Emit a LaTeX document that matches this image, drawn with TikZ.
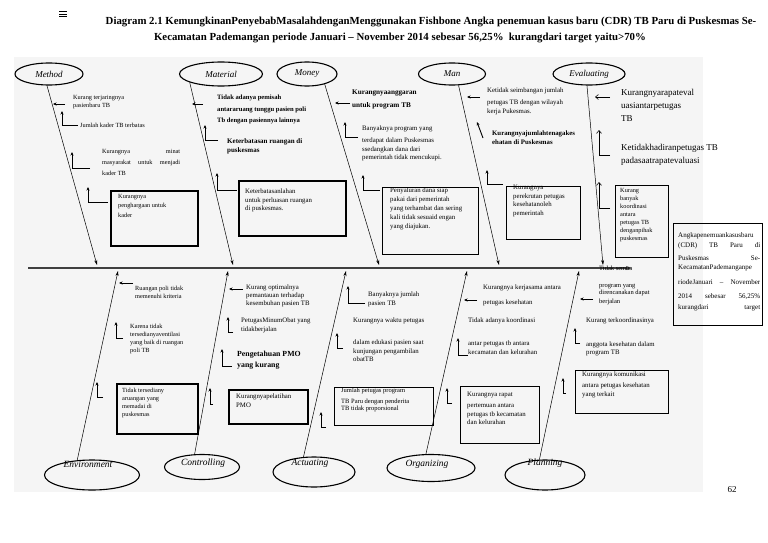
\documentclass[tikz,border=0pt]{standalone}
\usepackage{fontspec}
\setmainfont{Liberation Serif}
\usetikzlibrary{arrows.meta, shapes.geometric, positioning}
\tikzset{
	cat/.style={
		draw,
		ellipse,
		line width=1.1pt,
		inner sep=0pt,
		font=\fontsize{9}{10}\selectfont\itshape
	},
	catname/.style={
		inner sep=0pt,
		font=\fontsize{9.5}{10}\selectfont\itshape
	},
	spine/.style={
		-{Stealth[length=6pt,width=4pt]},
		line width=1.2pt,
		black!75
	},
	bone/.style={
		-{Stealth[length=5pt,width=3pt]},
		line width=.5pt
	},
	twig/.style={
		-{Stealth[length=3.5pt,width=3pt]},
		line width=.9pt
	},
	opentwig/.style={
		-{Straight Barb[length=3pt,width=5pt]},
		line width=.6pt
	},
	lbl/.style={
		anchor=north west,
		inner sep=0pt,
		align=left,
		font=\fontsize{6.8}{8.5}\selectfont
	},
	lbls/.style={lbl, font=\fontsize{6.3}{8}\selectfont},
	lblb/.style={lbl, font=\fontsize{7}{11}\selectfont\bfseries},
	lblbig/.style={lbl, font=\fontsize{9}{13}\selectfont},
	boxthick/.style={draw, line width=1.6pt, anchor=north west, inner sep=0pt},
	boxthin/.style={draw, line width=.7pt, anchor=north west, inner sep=0pt}
}
% small cause arrows: #2 name, #3 foot end, #4 tip
\newcommand{\twigL}[4][twig]{%
	\coordinate (#2f) at (#3); \coordinate (#2t) at (#4);
	\draw[#1] (#2f) -| (#2t);}
\newcommand{\twigS}[4][twig]{%
	\coordinate (#2f) at (#3); \coordinate (#2t) at (#4);
	\draw[#1] (#2f) -- (#2t);}

\begin{document}
\begin{tikzpicture}[x=1pt, y=-1pt]
	\useasboundingbox (0,0) rectangle (768,543);
	\fill[black!4] (14,57) rectangle (703,492);

	% title
	\foreach \yy in {11.5,14,16.5}
		\draw[line width=.6pt] (59,\yy) -- (67,\yy);
	\node[font=\fontsize{10.8}{12}\selectfont\bfseries] (ttl1) at (431,22) {Diagram 2.1 KemungkinanPenyebabMasalahdenganMenggunakan Fishbone Angka penemuan kasus baru (CDR) TB Paru di Puskesmas Se-};
	\node[font=\fontsize{10.8}{12}\selectfont\bfseries] (ttl2) at (400,38) {Kecamatan Pademangan periode Januari -- November 2014 sebesar 56,25\%\ \ kurangdari target yaitu>70\%};

	% spine
	\coordinate (tail) at (28,268);
	\coordinate (head) at (632,268);
	\draw[spine] (tail) -- (head);

	% categories
	\node[cat, minimum width=68pt, minimum height=22pt] (meth) at (49,74) {Method};
	\node[cat, minimum width=83pt, minimum height=24pt] (mat) at (221,74) {Material};
	\node[cat, minimum width=60pt, minimum height=24pt] (mon) at (307,74) {Money};
	\node[cat, minimum width=67pt, minimum height=22pt] (man) at (452,74) {Man};
	\node[cat, minimum width=72pt, minimum height=22pt] (eva) at (589,74) {Evaluating};

	\node[cat, minimum width=95pt, minimum height=30pt] (env) at (92,475) {};
	\node[cat, minimum width=75pt, minimum height=25pt] (ctl) at (202,467) {};
	\node[cat, minimum width=82pt, minimum height=30pt] (act) at (314,472) {};
	\node[cat, minimum width=88pt, minimum height=27pt] (org) at (431,468) {};
	\node[cat, minimum width=80pt, minimum height=30pt] (pln) at (545,475) {};

	\coordinate (methe) at (97,265);
	\coordinate (mate) at (233,265);
	\coordinate (mone) at (379,265);
	\coordinate (mane) at (499,265);
	\coordinate (evae) at (603,265);
	\coordinate (enve) at (118,271);
	\coordinate (ctle) at (228,271);
	\coordinate (acte) at (346,271);
	\coordinate (orge) at (467,271);
	\coordinate (plne) at (579,271);

	\draw[bone] (meth.-100) -- (methe);
	\draw[bone] (mat.-165) -- (mate);
	\draw[bone] (mon.-30) -- (mone);
	\draw[bone] (man.-60) -- (mane);
	\draw[bone] (eva.-100) -- (evae);
	\draw[bone] (env.135) -- (enve);
	\draw[bone] (ctl.120) -- (ctle);
	\draw[bone] (act.125) -- (acte);
	\draw[bone] (org.110) -- (orge);
	\draw[bone] (pln.110) -- (plne);

	\node[catname] (envt) at (88,464) {Environment};
	\node[catname] (ctlt) at (203,463) {Controlling};
	\node[catname] (actt) at (310,463) {Actuating};
	\node[catname] (orgt) at (427,464) {Organizing};
	\node[catname] (plnt) at (545,463) {Planning};

	% Method
	\node[lbls] (mt1) at (73,95) {Kurang terjaringnya\\pasienbaru TB};
	\twigS{mt1}{65,104}{53,104}
	\node[lbls] (mt2) at (80,123) {Jumlah kader TB terbatas};
	\twigL{mt2}{78,125}{62,111}
	\node[lbls] (mt3) at (102,149) {\makebox[78pt][s]{Kurangnya minat}\\[3pt]\makebox[78pt][s]{masyarakat untuk menjadi}\\[3pt]kader TB};
	\twigL{mt3}{90,168}{72,152}
	\node[boxthick, minimum width=87pt, minimum height=55pt] (mtb) at (110,190) {};
	\node[lbls] (mtbt) at (118,194) {Kurangnya\\[1.5pt]penghargaan untuk\\[1.5pt]kader};
	\twigL{mtb}{108,202}{88,187}

	% Material
	\node[lblb, font=\fontsize{6.6}{11.5}\selectfont\bfseries] (ma1) at (217,95) {Tidak adanya pemisah\\antararuang tunggu pasien poli\\Tb dengan pasiennya lainnya};
	\twigS{ma1}{203,104}{192,104}
	\node[lblb, font=\fontsize{7}{9}\selectfont\bfseries] (ma2) at (227,138) {Keterbatasan ruangan di\\puskesmas};
	\twigL{ma2}{218,140}{205,125}
	\node[boxthick, minimum width=107pt, minimum height=55pt] (mab) at (238,180) {};
	\node[lbl] (mabt) at (245,189) {Keterbatasanlahan\\untuk perluasan ruangan\\di puskesmas.};
	\twigL{mab}{237,190}{217,173}

	% Money
	\node[lblb, font=\fontsize{7.2}{13}\selectfont\bfseries] (mo1) at (352,90) {Kurangnyaanggaran\\untuk program TB};
	\twigS{mo1}{350,103}{335,103}
	\node[lbl] (mo2) at (362,126) {Banyaknya program yang\\[3.5pt]terdapat dalam Puskesmas\\ssedangkan dana dari\\pemerintah tidak mencukupi.};
	\twigL{mo2}{358,137}{345,122}
	\node[boxthin, minimum width=96pt, minimum height=67pt] (mob) at (382,187) {};
	\node[lbl, font=\fontsize{6.8}{9}\selectfont] (mobt) at (390,188) {Penyaluran dana siap\\pakai dari pemerintah\\yang terhambat dan sering\\kali tidak sesuaid engan\\yang diajukan.};
	\twigL{mob}{380,190}{363,175}

	% Man
	\node[lbl] (mn1) at (487,88) {Ketidak seimbangan jumlah\\[3.5pt]petugas TB dengan wilayah\\kerja Pukesmas.};
	\twigS{mn1}{480,97}{467,97}
	\node[lblb, font=\fontsize{6.8}{9}\selectfont\bfseries] (mn2) at (492,131) {Kurangnyajumlahtenagakes\\ehatan di Puskesmas};
	\twigS{mn2}{483,138}{477,122}
	\node[boxthin, minimum width=74pt, minimum height=53pt] (mnb) at (506,186) {};
	\node[lbl] (mnbt) at (513,185) {Kurangnya\\perekrutan petugas\\kesehatanoleh\\pemerintah};
	\twigL{mnb}{503,184}{487,170}

	% Evaluating
	\node[lblbig] (ev1) at (621,89) {Kurangnyarapateval\\uasiantarpetugas\\TB};
	\twigS[opentwig]{ev1}{610,97}{595,97}
	\node[lblbig] (ev2) at (621,144) {Ketidakhadiranpetugas TB\\padasaatrapatevaluasi};
	\twigL[opentwig]{ev2}{610,155}{599,130}
	\node[boxthin, minimum width=53pt, minimum height=72pt] (evb) at (615,185) {};
	\node[lbl, font=\fontsize{6.3}{8}\selectfont] (evbt) at (620,188) {Kurang\\banyak\\koordinasi\\antara\\petugas TB\\denganpihak\\puskesmas};
	\twigL[opentwig]{evb}{610,208}{599,182}

	% effect
	\node[boxthin, minimum width=89pt, minimum height=102pt] (eff) at (673,223) {};
	\node[lbl, font=\fontsize{7}{10}\selectfont] (efft) at (678,232) {Angkapenemuankasusbaru\\\makebox[82pt][s]{(CDR) TB Paru di}\\[3pt]\makebox[82pt][s]{Puskesmas Se-}\\[-1pt]KecamatanPademanganpe\\[5pt]\makebox[82pt][s]{riodeJanuari -- November}\\[4pt]\makebox[82pt][s]{2014 sebesar 56,25\%}\\[1pt]\makebox[82pt][s]{kurangdari target}};

	% Environment
	\node[lbls] (en1) at (135,286) {Ruangan poli tidak\\memenuhi kriteria};
	\twigS{en1}{133,283}{119,283}
	\node[lbls] (en2) at (130,324) {Karena tidak\\tersedianyaventilasi\\yang baik di ruangan\\poli TB};
	\twigL{en2}{123,338}{116,322}
	\node[boxthick, minimum width=81pt, minimum height=50pt] (enb) at (116,383) {};
	\node[lbls] (enbt) at (122,388) {Tidak tersediany\\aruangan yang\\memadai di\\puskesmas};
	\twigL{enb}{103,397}{97,382}

	% Controlling
	\node[lbl, font=\fontsize{6.8}{7.8}\selectfont] (co1) at (246,285) {Kurang optimalnya\\pemantauan terhadap\\kesembuhan pasien TB};
	\twigS{co1}{243,289}{229,289}
	\node[lbl] (co2) at (241,318) {PetugasMinumObat yang\\tidakberjalan};
	\twigL{co2}{233,332}{228,317}
	\node[lblb, font=\fontsize{7.8}{11}\selectfont\bfseries] (co3) at (237,351) {Pengetahuan PMO\\yang kurang};
	\twigL{co3}{232,366}{222,349}
	\node[boxthick, minimum width=79pt, minimum height=34pt] (cob) at (228,389) {};
	\node[lbl] (cobt) at (236,394) {Kurangnyapelatihan\\PMO};
	\twigL{cob}{213,404}{210,388}

	% Actuating
	\node[lbl] (ac1) at (368,292) {Banyaknya jumlah\\pasien TB};
	\twigL{ac1}{365,303}{348,286}
	\node[lbl] (ac2) at (353,318) {Kurangnya waktu petugas\\[13.5pt]dalam edukasi pasien saat\\kunjungan pengambilan\\obatTB};
	\twigL{ac2}{343,348}{337,333}
	\node[boxthin, minimum width=99pt, minimum height=38pt] (acb) at (334,387) {};
	\node[lbl, font=\fontsize{6.5}{6.5}\selectfont] (acbt) at (341,388) {Jumlah petugas program\\[4.5pt]TB Paru dengan penderita\\TB tidak proporsional};
	\twigL{acb}{326,427}{321,412}

	% Organizing
	\node[lbl] (or1) at (483,285) {Kurangnya kerjasama antara\\[6.5pt]petugas kesehatan};
	\twigS{or1}{477,300}{464,300}
	\node[lbl] (or2) at (468,318) {Tidak adanya koordinasi\\[14.5pt]antar petugas tb antara\\kecamatan dan kelurahan};
	\twigL{or2}{468,355}{458,338}
	\node[boxthin, minimum width=79pt, minimum height=57pt] (orb) at (460,386) {};
	\node[lbl] (orbt) at (467,392) {Kurangnya rapat\\[2.5pt]pertemuan antara\\petugas tb kecamatan\\dan kelurahan};
	\twigL{orb}{452,403}{447,388}

	% Planning
	\node[lbl, font=\fontsize{6.5}{7}\selectfont] (pl1) at (599,266) {Tidak semua\\[10pt]program yang\\direncanakan dapat\\[1.5pt]berjalan};
	\twigS{pl1}{593,299}{580,299}
	\node[lbl] (pl2) at (586,318) {Kurang terkoordinasinya\\[15pt]anggota kesehatan dalam\\program TB};
	\twigL{pl2}{580,343}{575,328}
	\node[boxthin, minimum width=93pt, minimum height=43pt] (plb) at (575,370) {};
	\node[lbl] (plbt) at (582,372) {Kurangnya komunikasi\\[2.5pt]antara petugas kesehatan\\yang terkait};
	\twigL{plb}{566,393}{563,378}

	% page number
	\node[font=\fontsize{9}{10}\selectfont] (pgno) at (732,490) {62};
\end{tikzpicture}
\end{document}
